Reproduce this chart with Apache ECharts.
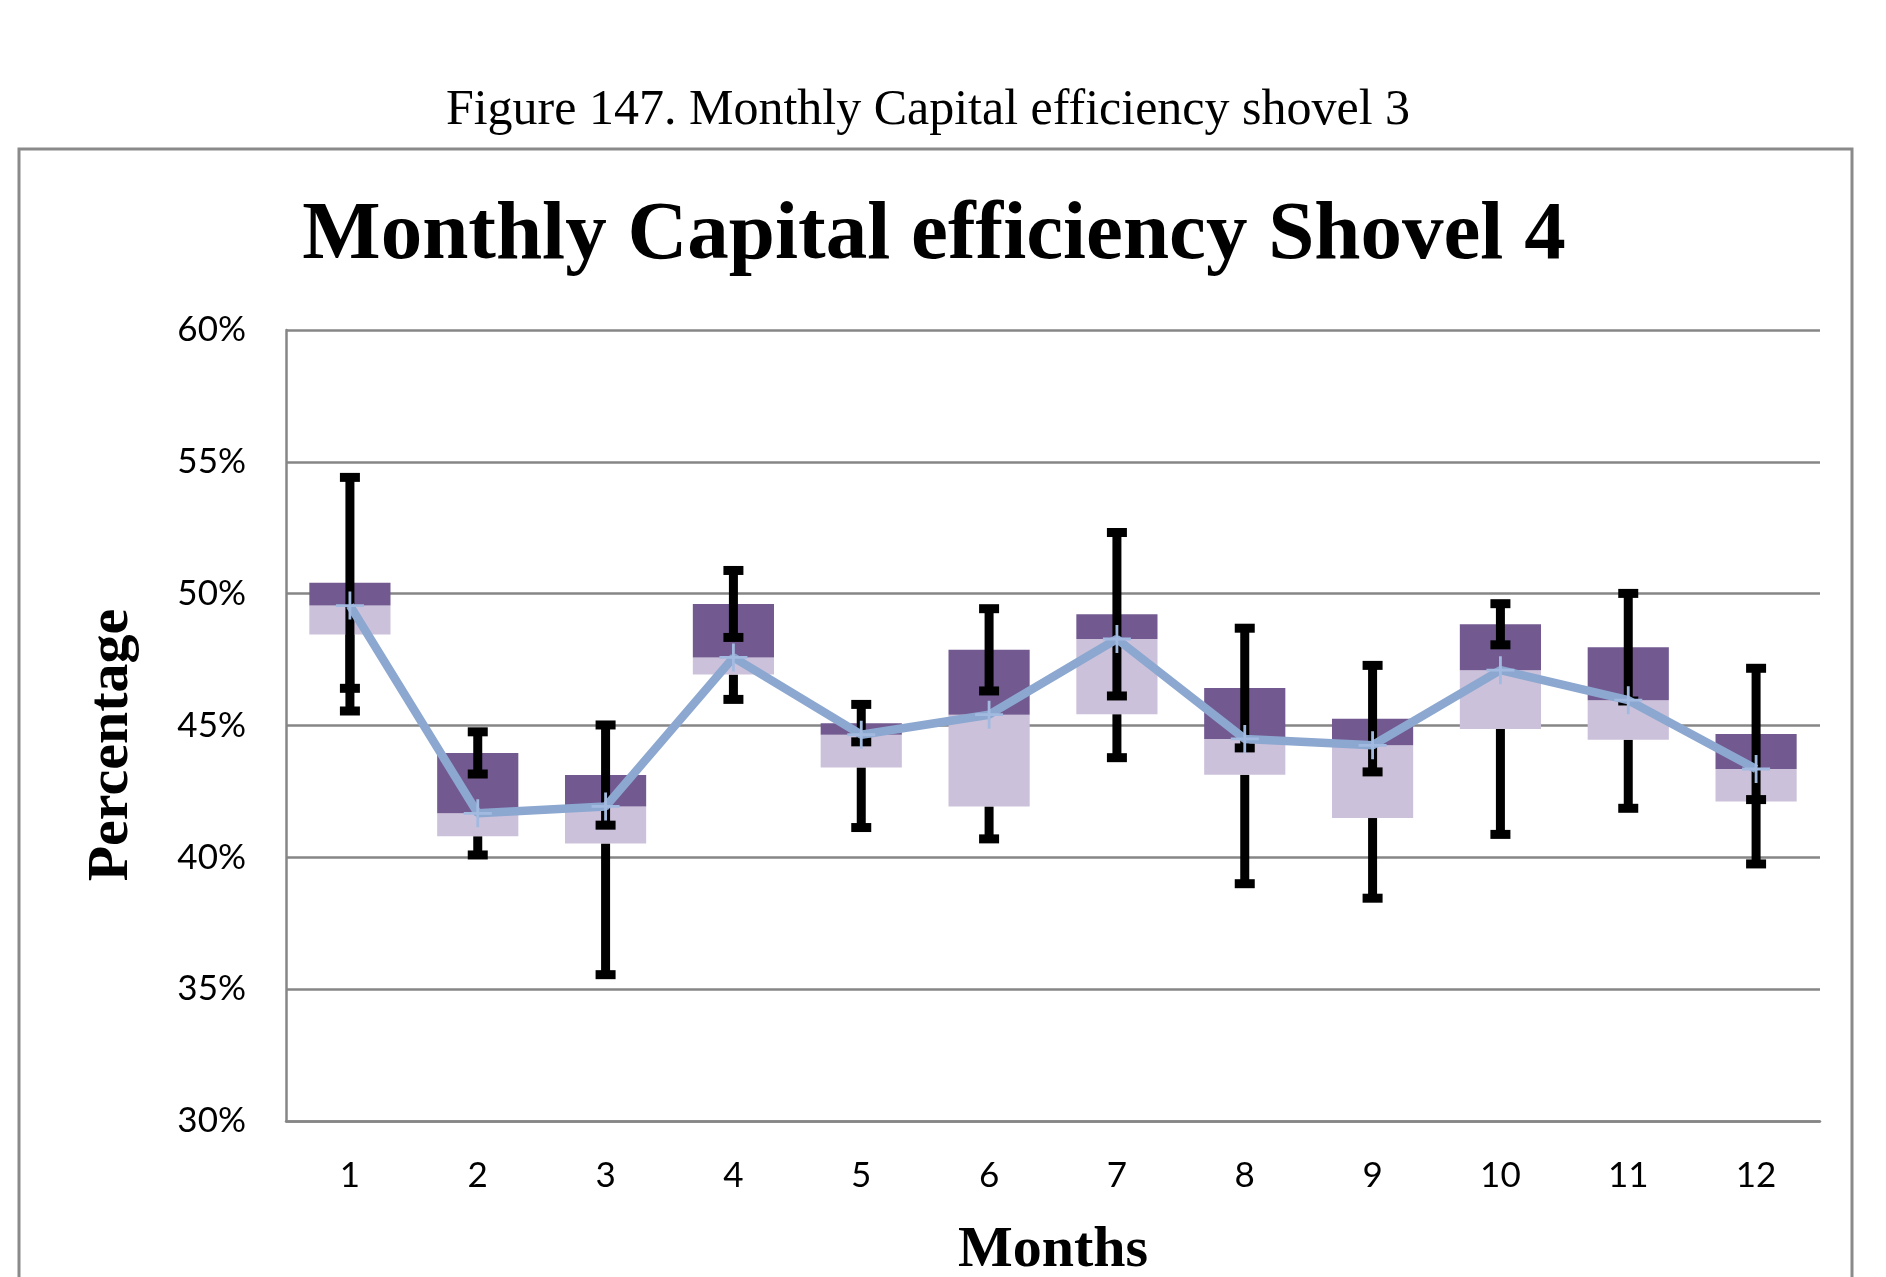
<!DOCTYPE html>
<html>
<head>
<meta charset="utf-8">
<script src="https://cdn.jsdelivr.net/npm/echarts@6/dist/echarts.min.js"></script>
<style>
html,body{margin:0;padding:0;background:#fff;}
#chart{width:1886px;height:1277px;}
</style>
</head>
<body>
<div id="chart"></div>
<script>
// ---- data ----
const months = ['1','2','3','4','5','6','7','8','9','10','11','12'];
const q1      = [48.45, 40.80, 40.52, 46.93, 43.41, 41.93, 45.43, 43.13, 41.49, 44.87, 44.46, 42.12];
const median  = [49.55, 41.67, 41.93, 47.58, 44.65, 45.41, 48.28, 44.49, 44.25, 47.10, 45.96, 43.35];
const q3      = [50.41, 43.96, 43.12, 49.61, 45.09, 47.87, 49.22, 46.42, 45.26, 48.84, 47.97, 44.68];
const q3Spread = [4.00, 0.80, 1.90, 1.27, 0.71, 1.56, 3.10, 2.27, 2.02, 0.78, 2.04, 2.49];
const whiskerMin = [45.55, 40.09, 35.55, 45.99, 41.13, 40.70, 43.78, 39.00, 38.45, 40.87, 41.86, 39.75];
const yMin = 30, yMax = 60, yStep = 5;

const captionText = 'Figure 147. Monthly Capital efficiency shovel 3';
const titleText = 'Monthly Capital efficiency Shovel 4';
const xName = 'Months';
const yName = 'Percentage';

const chart = echarts.init(document.getElementById('chart'));

const lowerPart = median.map((m, i) => +(m - q1[i]).toFixed(2));
const upperPart = q3.map((v, i) => +(v - median[i]).toFixed(2));

function capRect(p) {
  return {type: 'rect', shape: {x: p[0] - 10, y: p[1] - 4.5, width: 20, height: 9}, style: {fill: '#000'}};
}

const plusPath = 'path://M9,0L11,0L11,9L20,9L20,11L11,11L11,20L9,20L9,11L0,11L0,9L9,9Z';

chart.setOption({
  animation: false,
  backgroundColor: '#fff',
  graphic: [
    {type: 'rect', z: 0, shape: {x: 19, y: 149, width: 1833, height: 1200},
     style: {fill: 'none', stroke: '#8a8a8a', lineWidth: 3}},
    {type: 'text', z: 10, x: 928, y: 111,
     style: {text: captionText, font: '50px "Liberation Serif"', fill: '#000', textAlign: 'center', textVerticalAlign: 'middle'}},
    {type: 'text', z: 10, x: 934, y: 237,
     style: {text: titleText, font: 'bold 83px "Liberation Serif"', fill: '#000', textAlign: 'center', textVerticalAlign: 'middle'}},
    {type: 'text', z: 10, x: 1053, y: 1251,
     style: {text: xName, font: 'bold 58px "Liberation Serif"', fill: '#000', textAlign: 'center', textVerticalAlign: 'middle'}},
    {type: 'text', z: 10, x: 112, y: 745, rotation: Math.PI / 2,
     style: {text: yName, font: 'bold 58px "Liberation Serif"', fill: '#000', textAlign: 'center', textVerticalAlign: 'middle'}}
  ],
  grid: {left: 286, right: 66, top: 330, bottom: 156, containLabel: false},
  xAxis: {
    type: 'category',
    data: months,
    boundaryGap: true,
    axisLine: {show: true, lineStyle: {color: '#868686', width: 2.5}},
    axisTick: {show: false},
    axisLabel: {color: '#000', fontFamily: 'Lato', fontSize: 35, margin: 37}
  },
  yAxis: {
    type: 'value',
    min: yMin, max: yMax, interval: yStep,
    axisLine: {show: true, lineStyle: {color: '#868686', width: 2.5}},
    axisTick: {show: false},
    splitLine: {show: true, lineStyle: {color: '#868686', width: 2.5}},
    axisLabel: {color: '#000', fontFamily: 'Lato', fontSize: 35, margin: 40, formatter: '{value}%'}
  },
  series: [
    {
      name: 'base', type: 'bar', stack: 'box', data: q1, barWidth: '63.5%', z: 2,
      itemStyle: {color: 'rgba(0,0,0,0)'}, silent: true
    },
    {
      name: 'Q1-Median', type: 'bar', stack: 'box', data: lowerPart, z: 2,
      itemStyle: {color: '#CCC1DA'}
    },
    {
      name: 'Median-Q3', type: 'bar', stack: 'box', data: upperPart, z: 2,
      itemStyle: {color: '#725A91'}
    },
    {
      name: 'lowWhisker', type: 'custom', z: 1,
      encode: {x: 0, y: [1, 2]},
      data: months.map((m, i) => [i, q1[i], whiskerMin[i]]),
      renderItem: function (params, api) {
        const i = api.value(0);
        const a = api.coord([i, api.value(1)]);
        const b = api.coord([i, api.value(2)]);
        return {type: 'group', children: [
          {type: 'line', shape: {x1: a[0], y1: a[1], x2: b[0], y2: b[1]}, style: {stroke: '#000', lineWidth: 9}},
          capRect(b)
        ]};
      }
    },
    {
      name: 'q3Error', type: 'custom', z: 3,
      encode: {x: 0, y: 1},
      data: months.map((m, i) => [i, q3[i], q3Spread[i]]),
      renderItem: function (params, api) {
        const i = api.value(0);
        const c = api.value(1), e = api.value(2);
        const t = api.coord([i, c + e]);
        const b = api.coord([i, c - e]);
        return {type: 'group', children: [
          {type: 'line', shape: {x1: t[0], y1: t[1], x2: b[0], y2: b[1]}, style: {stroke: '#000', lineWidth: 9}},
          capRect(t), capRect(b)
        ]};
      }
    },
    {
      name: 'Median', type: 'line', data: median, z: 5,
      lineStyle: {color: '#8DA8D0', width: 8.5},
      symbol: plusPath, symbolSize: 28, showSymbol: true,
      itemStyle: {color: '#A3BAE0'}
    }
  ]
});
</script>
</body>
</html>
